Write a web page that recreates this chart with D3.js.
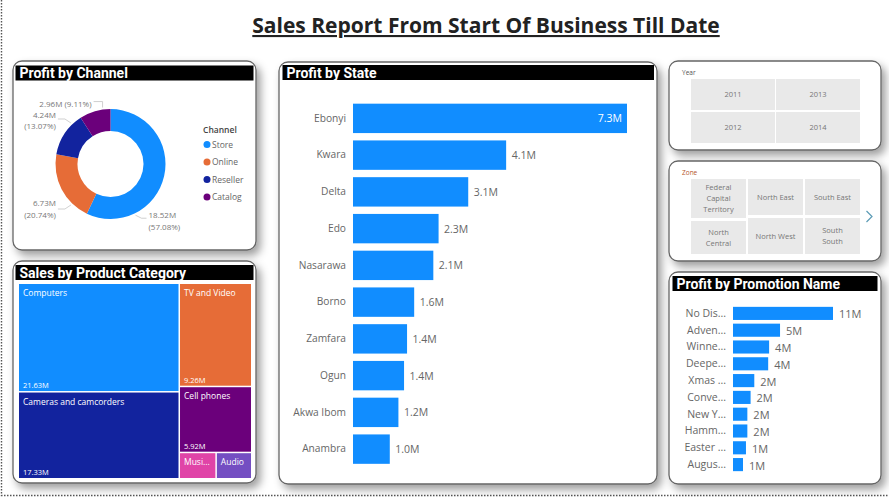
<!DOCTYPE html>
<html>
<head>
<meta charset="utf-8">
<script src="https://cdnjs.cloudflare.com/ajax/libs/d3/7.8.5/d3.min.js"></script>
<style>
  html, body { margin: 0; padding: 0; background: #fff; overflow: hidden; }
  svg { display: block; }
  text { font-family: "Open Sans", sans-serif; }
  .domain { display: none; }
  .head { font-family: Roboto, sans-serif; font-weight: 700; font-size: 14px; fill: #fff; }
</style>
</head>
<body>
<div id="chart"></div>
<script>
// channel donut
var channels = ["Store", "Online", "Reseller", "Catalog"];
var channelProfit = [18.52, 6.73, 4.24, 2.96];
var channelShare = [57.08, 20.74, 13.07, 9.11];
var channelColors = ["#118DFF", "#E66C37", "#12239E", "#6B007B"];

// treemap
var categories = ["Computers", "Cameras and camcorders", "TV and Video", "Cell phones", "Musi...", "Audio"];
var categorySales = [21.63, 17.33, 9.26, 5.92, 1.2, 1.16];
var categoryColors = ["#118DFF", "#12239E", "#E66C37", "#6B007B", "#E044A7", "#744EC2"];

// state bars
var states = ["Ebonyi", "Kwara", "Delta", "Edo", "Nasarawa", "Borno", "Zamfara", "Ogun", "Akwa Ibom", "Anambra"];
var stateProfit = [7.3, 4.08, 3.07, 2.28, 2.14, 1.63, 1.44, 1.36, 1.21, 0.98];

// promotion bars
var promotions = ["No Dis...", "Adven...", "Winne...", "Deepe...", "Xmas ...", "Conve...", "New Y...", "Hamm...", "Easter ...", "Augus..."];
var promotionProfit = [10.8, 5.08, 3.9, 3.8, 2.3, 1.9, 1.55, 1.55, 1.4, 1.08];

// slicers
var years = ["2011", "2012", "2013", "2014"];
var zones = ["Federal Capital Territory", "North Central", "North East", "North West", "South East", "South South"];

var svg = d3.select("#chart").append("svg").attr("width", 889).attr("height", 497);

var filter = svg.append("defs").append("filter").attr("id", "shadow")
  .attr("x", "-10%").attr("y", "-10%").attr("width", "125%").attr("height", "125%");
filter.append("feDropShadow").attr("dx", 4).attr("dy", 5).attr("stdDeviation", 4)
  .attr("flood-color", "#000").attr("flood-opacity", 0.38);

// dotted page outline
svg.append("path").attr("d", "M1.5,0V495.5H889").attr("fill", "none")
  .attr("stroke", "#555").attr("stroke-width", 1.4).attr("stroke-dasharray", "1.5,1.5");

svg.append("text").attr("x", 486).attr("y", 33).attr("text-anchor", "middle")
  .style("font-size", "21px").style("font-weight", 700).style("fill", "#222")
  .style("text-decoration", "underline")
  .text("Sales Report From Start Of Business Till Date");

function card(x, y, w, h) {
  svg.append("rect").attr("x", x).attr("y", y).attr("width", w).attr("height", h)
    .attr("rx", 9).attr("fill", "#fff").attr("stroke", "#666").attr("stroke-width", 1.3)
    .attr("filter", "url(#shadow)");
}

function header(x, y, w, label) {
  svg.append("rect").attr("x", x).attr("y", y).attr("width", w).attr("height", 15).attr("fill", "#000");
  svg.append("text").attr("class", "head").attr("x", x + 4).attr("y", y + 12.5).text(label);
}

// ---- Profit by Channel ----
card(13, 61, 243, 189);
header(15.5, 65.5, 238, "Profit by Channel");

var cx = 110.5, cy = 164, rOut = 55, rIn = 33;
var pie = d3.pie().sort(null)(channelProfit);
var arc = d3.arc().innerRadius(rIn).outerRadius(rOut);
var donut = svg.append("g").attr("transform", "translate(" + cx + "," + cy + ")");
donut.selectAll("path").data(pie).enter().append("path")
  .attr("d", arc)
  .attr("fill", (d, i) => channelColors[i]);

// leader anchor angle (deg clockwise from top), elbow, text side and text lift for each slice label
var leaders = [
  { angle: 154, dx: 6, dy: 3, run: 5, side: 1, lift: 1 },
  { angle: 224, dx: -6, dy: 4, run: -7, side: -1, lift: 4 },
  { angle: 316, dx: -6, dy: -4, run: -7, side: -1, lift: 2.5 },
  { angle: 352, dx: 0, dy: -6, run: -9, side: -1, lift: -2 }
];
leaders.forEach(function (l, i) {
  var a = l.angle * Math.PI / 180;
  var x0 = Math.sin(a) * (rOut + 2), y0 = -Math.cos(a) * (rOut + 2);
  var x1 = x0 + l.dx, y1 = y0 + l.dy, x2 = x1 + l.run;
  donut.append("polyline").attr("points", [[x0, y0], [x1, y1], [x2, y1]].join(" "))
    .attr("fill", "none").attr("stroke", "#c4c4c4").attr("stroke-width", 0.8);
  var t = donut.append("text").attr("x", x2 + l.side * 2)
    .attr("text-anchor", l.side > 0 ? "start" : "end")
    .style("font-size", "8px").style("fill", "#777");
  var value = channelProfit[i].toFixed(2) + "M", share = "(" + channelShare[i].toFixed(2) + "%)";
  if (i == 3) {
    t.attr("y", y1 + 3 - l.lift).text(value + " " + share);
  } else {
    t.attr("y", y1 + 1 - l.lift);
    t.append("tspan").text(value);
    t.append("tspan").attr("x", x2 + l.side * 2).attr("dy", 11.5).text(share);
  }
});

var legend = svg.append("g").attr("transform", "translate(203,133)");
legend.append("text").text("Channel").style("font-size", "8.5px").style("font-weight", 600).style("fill", "#444");
var legendY = d3.scalePoint().domain(channels).range([11.5, 64]);
channels.forEach(function (c, i) {
  legend.append("circle").attr("cx", 4).attr("cy", legendY(c)).attr("r", 3.5).attr("fill", channelColors[i]);
  legend.append("text").attr("x", 9).attr("y", legendY(c) + 3).text(c)
    .style("font-size", "8.5px").style("fill", "#666");
});

// ---- Sales by Product Category ----
card(13, 261, 243, 222);
header(15.5, 265, 238, "Sales by Product Category");

var root = d3.hierarchy({ children: categories.map((c, i) => ({ name: c, value: categorySales[i], color: categoryColors[i] })) })
  .sum(d => d.value || 0);
d3.treemap().tile(d3.treemapSquarify).size([232, 194]).paddingInner(1.5)(root);
var cells = svg.append("g").attr("transform", "translate(19,284)")
  .selectAll("g").data(root.leaves()).enter().append("g")
  .attr("transform", d => "translate(" + d.x0 + "," + d.y0 + ")");
cells.append("rect")
  .attr("width", d => d.x1 - d.x0)
  .attr("height", d => d.y1 - d.y0)
  .attr("fill", d => d.data.color);
cells.append("text").attr("x", 4).attr("y", 12).text(d => d.data.name)
  .style("font-size", "8.5px").style("fill", "#fff");
cells.filter(d => d.value > 2).append("text").attr("x", 4).attr("y", d => d.y1 - d.y0 - 3)
  .text(d => d.value.toFixed(2) + "M")
  .style("font-size", "7.5px").style("fill", "#fff");

// ---- Profit by State ----
card(279, 62, 378, 422);
header(282.5, 65, 371.5, "Profit by State");

var stateX = d3.scaleLinear().domain([0, 7.3]).range([353, 627]);
var stateY = d3.scaleBand().domain(states).range([100, 467.5]).paddingInner(0.2).paddingOuter(0.1);

svg.append("g").attr("transform", "translate(353,0)")
  .call(d3.axisLeft(stateY).tickSize(0).tickPadding(7))
  .call(g => g.selectAll("text").style("font-size", "10.2px").style("fill", "#666").style("font-family", '"Open Sans", sans-serif'));

svg.append("g").selectAll("rect").data(states).enter().append("rect")
  .attr("x", stateX(0))
  .attr("y", d => stateY(d))
  .attr("width", (d, i) => stateX(stateProfit[i]) - stateX(0))
  .attr("height", stateY.bandwidth())
  .attr("fill", "#118DFF");

svg.append("g").selectAll("text").data(states).enter().append("text")
  .attr("x", (d, i) => i == 0 ? stateX(stateProfit[i]) - 5 : stateX(stateProfit[i]) + 5.5)
  .attr("y", d => stateY(d) + stateY.bandwidth() / 2 + 4)
  .attr("text-anchor", (d, i) => i == 0 ? "end" : "start")
  .style("font-size", "10.5px")
  .style("fill", (d, i) => i == 0 ? "#fff" : "#666")
  .text((d, i) => stateProfit[i].toFixed(1) + "M");

// ---- Year slicer ----
function tile(x, y, w, h, lines) {
  svg.append("rect").attr("x", x).attr("y", y).attr("width", w).attr("height", h).attr("fill", "#E9E9E9");
  var t = svg.append("text").attr("text-anchor", "middle").style("font-size", "7.5px").style("fill", "#777");
  lines.forEach(function (s, i) {
    t.append("tspan").attr("x", x + w / 2)
      .attr("y", y + h / 2 + 2.5 + (i - (lines.length - 1) / 2) * 11)
      .text(s);
  });
}

card(669, 61, 212, 89);
svg.append("text").attr("x", 682).attr("y", 74.5).text("Year").style("font-size", "6.5px").style("fill", "#555");
years.forEach(function (yr, i) {
  tile(691 + (i > 1 ? 85 : 0), 79 + (i % 2 ? 33 : 0), 84, 31, [yr]);
});

// ---- Zone slicer ----
card(669, 161, 212, 100);
svg.append("text").attr("x", 682).attr("y", 174.5).text("Zone").style("font-size", "6.5px").style("fill", "#B5562A");
tile(691, 179, 55, 39, ["Federal", "Capital", "Territory"]);
tile(691, 221, 55, 33, ["North", "Central"]);
tile(748, 179, 55, 36, ["North East"]);
tile(748, 218, 55, 36, ["North West"]);
tile(805, 179, 55, 36, ["South East"]);
tile(805, 218, 55, 36, ["South", "South"]);
svg.append("path").attr("d", "M866.5,211L872,216.5L866.5,222").attr("fill", "none")
  .attr("stroke", "#5B9BB5").attr("stroke-width", 1.2);

// ---- Profit by Promotion Name ----
card(669, 272, 212, 212);
header(672.5, 276, 205, "Profit by Promotion Name");

var promoX = d3.scaleLinear().domain([0, 10.8]).range([733, 833]);
var promoY = d3.scaleBand().domain(promotions).range([305, 473]).paddingInner(0.22).paddingOuter(0.11);

svg.append("g").attr("transform", "translate(733,0)")
  .call(d3.axisLeft(promoY).tickSize(0).tickPadding(7))
  .call(g => g.selectAll("text").style("font-size", "10.5px").style("fill", "#666").style("font-family", '"Open Sans", sans-serif'));

svg.append("g").selectAll("rect").data(promotions).enter().append("rect")
  .attr("x", promoX(0))
  .attr("y", d => promoY(d))
  .attr("width", (d, i) => promoX(promotionProfit[i]) - promoX(0))
  .attr("height", promoY.bandwidth())
  .attr("fill", "#118DFF");

svg.append("g").selectAll("text").data(promotions).enter().append("text")
  .attr("x", (d, i) => promoX(promotionProfit[i]) + 6)
  .attr("y", d => promoY(d) + promoY.bandwidth() / 2 + 5)
  .style("font-size", "11px").style("fill", "#666")
  .text((d, i) => Math.round(promotionProfit[i]) + "M");
</script>
</body>
</html>
